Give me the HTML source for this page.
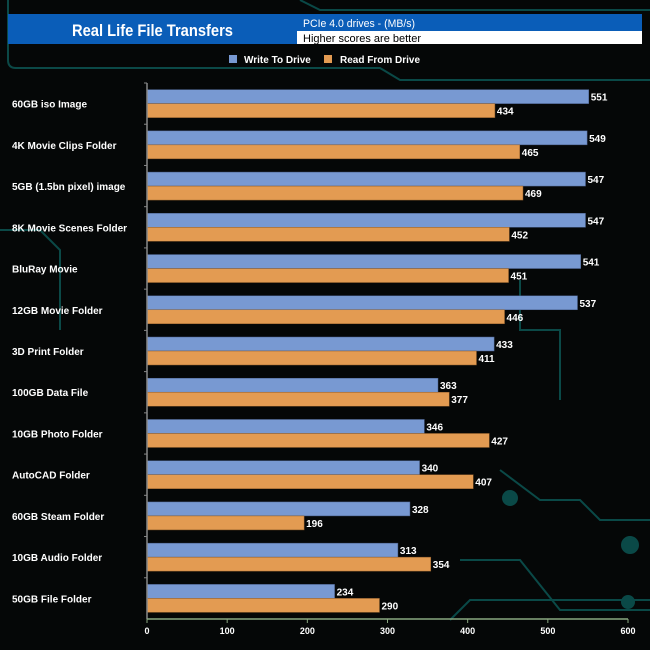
<!DOCTYPE html>
<html><head><meta charset="utf-8"><style>
body{margin:0;background:#050707;}
svg{display:block;font-family:"Liberation Sans",Arial,sans-serif;}
</style></head><body>
<svg id="c" width="650" height="650" viewBox="0 0 650 650">
<rect width="650" height="650" fill="#050707"/>
<g stroke="#0c5a58" stroke-width="2" fill="none" opacity="0.8">
<path d="M8 0 V60 Q8 68 16 68 H380 L400 80 H650"/>
<path d="M300 0 L320 10 H650"/>
<path d="M500 470 L540 500 H580 L600 520 H650"/>
<path d="M460 560 H520 L560 610 H650"/>
<path d="M520 280 V330 H560 V400"/>
<path d="M0 230 H40 L60 250 V330"/>
<path d="M450 620 L470 600 H650"/>
<circle cx="630" cy="545" r="8" fill="#0c5a58"/>
<circle cx="628" cy="602" r="6" fill="#0c5a58"/>
<circle cx="510" cy="498" r="7" fill="#0c5a58"/>
</g>
<rect x="8" y="14" width="289" height="30" fill="#0a5db8"/>
<text x="72" y="36" textLength="161" lengthAdjust="spacingAndGlyphs" fill="#fff" font-size="17" font-weight="bold">Real Life File Transfers</text>
<rect x="297" y="14" width="345" height="17" fill="#0a5db8"/>
<text x="303" y="27" textLength="112" lengthAdjust="spacingAndGlyphs" fill="#fff" font-size="11">PCIe 4.0 drives - (MB/s)</text>
<rect x="297" y="31" width="345" height="13" fill="#fff"/>
<text x="303" y="42" fill="#000" font-size="11">Higher scores are better</text>
<rect x="229" y="55" width="8" height="8" fill="#7899d2"/>
<text x="244" y="63" fill="#fff" font-size="10" font-weight="bold">Write To  Drive</text>
<rect x="324" y="55" width="8" height="8" fill="#e39b52"/>
<text x="340" y="63" fill="#fff" font-size="10" font-weight="bold">Read From  Drive</text>
<g id="plot"></g>
</svg>
<script>
const categories=["60GB iso Image","4K Movie Clips Folder","5GB (1.5bn pixel) image","8K Movie Scenes Folder","BluRay Movie","12GB Movie Folder","3D Print Folder","100GB Data File","10GB Photo Folder","AutoCAD Folder","60GB Steam Folder","10GB Audio Folder","50GB File Folder"];
const writeVals=[551,549,547,547,541,537,433,363,346,340,328,313,234];
const readVals=[434,465,469,452,451,446,411,377,427,407,196,354,290];
const xTicks=[0,100,200,300,400,500,600];
const NS="http://www.w3.org/2000/svg";
const g=document.getElementById('plot');
const x0=147,x1=628,yTop=83,yBot=619;
const xs=v=>x0+(v/600)*(x1-x0);
const band=(yBot-yTop)/categories.length;
function mk(t,a,p){const e=document.createElementNS(NS,t);for(const k in a)e.setAttribute(k,a[k]);(p||g).appendChild(e);return e;}
categories.forEach((c,i)=>{
 const yc=yTop+band*(i+0.5);
 const b1=mk('rect',{x:x0,y:yc-14,width:xs(writeVals[i])-x0,height:14,fill:'#7899d2',stroke:'#4a5f8a','stroke-width':0.5});
 
 
 const b2=mk('rect',{x:x0,y:yc,width:xs(readVals[i])-x0,height:14,fill:'#e39b52',stroke:'#8a5a2a','stroke-width':0.5});
 
 
 const t1=mk('text',{x:xs(writeVals[i])+2,y:yc-3,fill:'#fff','font-size':10,'font-weight':'bold'});t1.textContent=writeVals[i];
 
 
 const t2=mk('text',{x:xs(readVals[i])+2,y:yc+11,fill:'#fff','font-size':10,'font-weight':'bold'});t2.textContent=readVals[i];
 
 
 const l=mk('text',{x:12,y:yc+4,fill:'#fff','font-size':10,'font-weight':'bold'});l.textContent=c;
 
 
 const tk=mk('line',{x1:x0-3,x2:x0,y1:yTop+band*i,y2:yTop+band*i,stroke:'#888'});
 
 
});
const ya=mk('line',{x1:x0,x2:x0,y1:yTop,y2:yBot,stroke:'#888','stroke-width':1.5});


const xa=mk('line',{x1:x0,x2:x1,y1:yBot,y2:yBot,stroke:'#8aa880','stroke-width':1.5});


xTicks.forEach((v,i)=>{
 const t=mk('line',{x1:xs(v),x2:xs(v),y1:yBot,y2:yBot+4,stroke:'#8aa880'});
 
 
 const l=mk('text',{x:xs(v),y:yBot+15,fill:'#fff','font-size':9,'font-weight':'bold','text-anchor':'middle'});l.textContent=v;
 
 
});
</script>
</body></html>
